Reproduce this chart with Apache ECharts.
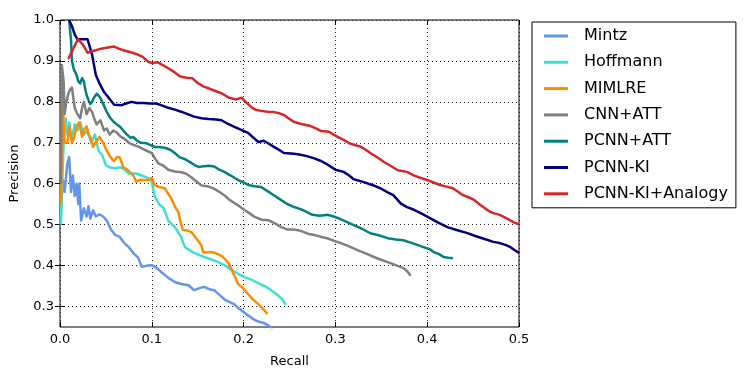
<!DOCTYPE html>
<html>
<head>
<meta charset="utf-8">
<script src="https://cdn.jsdelivr.net/npm/echarts@6/dist/echarts.min.js"></script>
<style>html,body{margin:0;padding:0;background:#fff}#c{width:752px;height:380px}</style>
</head>
<body>
<div id="c"></div>
<script>
const seriesNames = ['Mintz','Hoffmann','MIMLRE','CNN+ATT','PCNN+ATT','PCNN-KI','PCNN-KI+Analogy'];
const seriesColors = ['#6495ED','#40E0D0','#FF8C00','#808080','#008080','#000080','#D62728'];
const xTicks = [0, 0.1, 0.2, 0.3, 0.4, 0.5];
const yTicks = [0.3, 0.4, 0.5, 0.6, 0.7, 0.8, 0.9, 1.0];

const mintz = [[0.001,0.53],[0.003,0.61],[0.005,0.58],[0.008,0.65],[0.010,0.665],[0.012,0.58],[0.014,0.62],[0.016,0.57],[0.018,0.60],[0.020,0.55],[0.021,0.60],[0.023,0.51],[0.026,0.54],[0.029,0.52],[0.031,0.545],[0.033,0.515],[0.036,0.535],[0.039,0.52],[0.043,0.525],[0.047,0.52],[0.051,0.51],[0.055,0.49],[0.060,0.475],[0.065,0.47],[0.070,0.455],[0.075,0.445],[0.080,0.43],[0.085,0.42],[0.089,0.397],[0.095,0.40],[0.100,0.401],[0.105,0.395],[0.110,0.385],[0.118,0.37],[0.125,0.36],[0.132,0.355],[0.140,0.352],[0.146,0.34],[0.152,0.345],[0.157,0.348],[0.163,0.342],[0.168,0.34],[0.174,0.328],[0.180,0.316],[0.190,0.305],[0.195,0.295],[0.201,0.285],[0.207,0.275],[0.212,0.267],[0.218,0.262],[0.222,0.260],[0.228,0.252],[0.232,0.245]];

const hoffmann = [[0.001,0.50],[0.002,0.58],[0.004,0.70],[0.006,0.76],[0.008,0.72],[0.010,0.75],[0.013,0.71],[0.016,0.745],[0.019,0.73],[0.022,0.75],[0.026,0.72],[0.030,0.73],[0.034,0.70],[0.038,0.72],[0.042,0.68],[0.046,0.67],[0.050,0.645],[0.054,0.64],[0.060,0.638],[0.066,0.64],[0.070,0.635],[0.075,0.625],[0.083,0.625],[0.089,0.62],[0.095,0.615],[0.100,0.605],[0.103,0.57],[0.108,0.55],[0.113,0.54],[0.118,0.51],[0.125,0.494],[0.132,0.47],[0.136,0.445],[0.146,0.431],[0.157,0.421],[0.165,0.415],[0.172,0.409],[0.180,0.40],[0.187,0.389],[0.194,0.38],[0.201,0.372],[0.209,0.365],[0.216,0.357],[0.223,0.35],[0.230,0.34],[0.236,0.33],[0.242,0.318],[0.246,0.304]];

const mimlre = [[0.001,0.55],[0.003,0.79],[0.005,0.70],[0.008,0.70],[0.010,0.74],[0.013,0.70],[0.015,0.71],[0.018,0.74],[0.021,0.75],[0.024,0.715],[0.027,0.735],[0.029,0.74],[0.031,0.72],[0.033,0.714],[0.036,0.69],[0.040,0.705],[0.043,0.714],[0.047,0.70],[0.051,0.68],[0.055,0.665],[0.059,0.655],[0.062,0.665],[0.065,0.665],[0.069,0.64],[0.073,0.635],[0.076,0.629],[0.080,0.62],[0.083,0.605],[0.088,0.61],[0.091,0.609],[0.096,0.61],[0.100,0.614],[0.103,0.597],[0.108,0.592],[0.114,0.589],[0.118,0.575],[0.121,0.565],[0.125,0.545],[0.129,0.53],[0.132,0.50],[0.134,0.487],[0.140,0.485],[0.143,0.482],[0.149,0.465],[0.154,0.45],[0.156,0.433],[0.160,0.432],[0.165,0.433],[0.170,0.43],[0.176,0.424],[0.180,0.415],[0.184,0.405],[0.187,0.39],[0.190,0.375],[0.194,0.355],[0.198,0.348],[0.205,0.33],[0.210,0.318],[0.216,0.306],[0.221,0.295],[0.226,0.282]];

const cnnAtt = [[0.001,0.60],[0.002,0.89],[0.004,0.85],[0.005,0.77],[0.007,0.80],[0.009,0.82],[0.011,0.83],[0.013,0.835],[0.016,0.785],[0.019,0.77],[0.022,0.76],[0.024,0.785],[0.026,0.80],[0.029,0.77],[0.032,0.785],[0.035,0.775],[0.038,0.755],[0.040,0.745],[0.044,0.755],[0.048,0.73],[0.051,0.735],[0.054,0.72],[0.058,0.73],[0.062,0.725],[0.066,0.715],[0.070,0.71],[0.075,0.70],[0.080,0.695],[0.086,0.69],[0.090,0.685],[0.095,0.68],[0.100,0.675],[0.104,0.66],[0.107,0.65],[0.112,0.645],[0.118,0.634],[0.125,0.63],[0.132,0.628],[0.137,0.625],[0.143,0.616],[0.149,0.605],[0.154,0.596],[0.160,0.594],[0.166,0.59],[0.170,0.585],[0.175,0.578],[0.180,0.57],[0.185,0.56],[0.190,0.553],[0.196,0.544],[0.201,0.536],[0.207,0.527],[0.212,0.519],[0.220,0.512],[0.227,0.511],[0.234,0.503],[0.241,0.494],[0.248,0.488],[0.255,0.488],[0.262,0.485],[0.270,0.478],[0.277,0.475],[0.285,0.47],[0.292,0.466],[0.299,0.46],[0.306,0.455],[0.315,0.447],[0.324,0.438],[0.333,0.43],[0.342,0.421],[0.351,0.413],[0.360,0.406],[0.367,0.40],[0.374,0.394],[0.378,0.387],[0.382,0.375]];

const pcnnAtt = [[0.010,1.0],[0.012,0.95],[0.013,0.90],[0.015,0.88],[0.018,0.866],[0.020,0.85],[0.022,0.845],[0.024,0.858],[0.026,0.85],[0.028,0.825],[0.030,0.81],[0.033,0.795],[0.035,0.80],[0.037,0.81],[0.040,0.82],[0.042,0.822],[0.044,0.81],[0.046,0.80],[0.049,0.785],[0.051,0.775],[0.055,0.76],[0.059,0.75],[0.062,0.745],[0.065,0.74],[0.069,0.73],[0.073,0.72],[0.077,0.712],[0.080,0.714],[0.084,0.705],[0.088,0.70],[0.094,0.699],[0.098,0.695],[0.103,0.69],[0.108,0.69],[0.114,0.688],[0.120,0.683],[0.125,0.675],[0.130,0.665],[0.136,0.66],[0.142,0.652],[0.147,0.645],[0.151,0.641],[0.157,0.643],[0.162,0.644],[0.168,0.642],[0.173,0.635],[0.179,0.629],[0.186,0.62],[0.194,0.609],[0.200,0.603],[0.205,0.597],[0.212,0.594],[0.219,0.592],[0.226,0.582],[0.233,0.572],[0.241,0.56],[0.248,0.55],[0.255,0.543],[0.262,0.538],[0.268,0.532],[0.275,0.524],[0.283,0.522],[0.292,0.524],[0.298,0.52],[0.303,0.516],[0.311,0.508],[0.320,0.499],[0.329,0.49],[0.338,0.479],[0.347,0.474],[0.357,0.467],[0.366,0.464],[0.374,0.462],[0.382,0.456],[0.390,0.45],[0.396,0.445],[0.403,0.44],[0.407,0.433],[0.413,0.428],[0.418,0.421],[0.423,0.419],[0.428,0.418]];

const pcnnKi = [[0.010,1.0],[0.013,0.985],[0.016,0.965],[0.019,0.953],[0.030,0.953],[0.033,0.93],[0.035,0.915],[0.037,0.89],[0.039,0.866],[0.043,0.845],[0.048,0.824],[0.053,0.81],[0.059,0.793],[0.067,0.792],[0.072,0.796],[0.078,0.80],[0.084,0.797],[0.091,0.797],[0.098,0.796],[0.105,0.796],[0.110,0.792],[0.116,0.787],[0.125,0.781],[0.132,0.776],[0.139,0.77],[0.146,0.764],[0.154,0.76],[0.162,0.758],[0.170,0.757],[0.176,0.755],[0.183,0.746],[0.190,0.739],[0.198,0.731],[0.205,0.724],[0.210,0.714],[0.216,0.702],[0.222,0.705],[0.228,0.697],[0.233,0.69],[0.239,0.682],[0.244,0.675],[0.252,0.674],[0.259,0.672],[0.268,0.668],[0.277,0.662],[0.285,0.655],[0.292,0.646],[0.300,0.634],[0.309,0.629],[0.315,0.62],[0.320,0.611],[0.331,0.604],[0.340,0.597],[0.349,0.589],[0.357,0.579],[0.363,0.572],[0.368,0.56],[0.371,0.552],[0.378,0.543],[0.385,0.537],[0.394,0.527],[0.403,0.516],[0.412,0.505],[0.422,0.494],[0.432,0.487],[0.443,0.48],[0.454,0.471],[0.465,0.463],[0.472,0.458],[0.479,0.455],[0.486,0.45],[0.490,0.446],[0.495,0.438],[0.500,0.431]];

const pcnnKiAnalogy = [[0.009,0.905],[0.0195,0.953],[0.025,0.94],[0.030,0.92],[0.037,0.925],[0.045,0.93],[0.052,0.933],[0.059,0.935],[0.064,0.93],[0.069,0.926],[0.076,0.922],[0.083,0.917],[0.090,0.91],[0.096,0.898],[0.100,0.895],[0.106,0.897],[0.112,0.89],[0.118,0.882],[0.125,0.872],[0.131,0.862],[0.138,0.859],[0.144,0.858],[0.150,0.846],[0.156,0.838],[0.163,0.832],[0.170,0.826],[0.177,0.82],[0.184,0.81],[0.192,0.806],[0.198,0.81],[0.203,0.798],[0.209,0.786],[0.214,0.78],[0.219,0.778],[0.226,0.776],[0.233,0.775],[0.239,0.772],[0.244,0.768],[0.250,0.758],[0.255,0.751],[0.263,0.746],[0.273,0.741],[0.280,0.734],[0.284,0.729],[0.293,0.727],[0.298,0.72],[0.303,0.714],[0.309,0.707],[0.315,0.699],[0.322,0.694],[0.328,0.69],[0.333,0.683],[0.338,0.675],[0.346,0.664],[0.353,0.653],[0.360,0.644],[0.368,0.633],[0.378,0.629],[0.386,0.62],[0.393,0.614],[0.400,0.609],[0.407,0.603],[0.414,0.597],[0.421,0.593],[0.428,0.589],[0.434,0.58],[0.439,0.572],[0.445,0.567],[0.450,0.562],[0.458,0.548],[0.464,0.538],[0.469,0.531],[0.474,0.527],[0.479,0.524],[0.485,0.517],[0.490,0.511],[0.495,0.505],[0.500,0.501]];

const allData = [mintz, hoffmann, mimlre, cnnAtt, pcnnAtt, pcnnKi, pcnnKiAnalogy];

const FONT = 'DejaVu Sans';
const gridLine = {show: true, lineStyle: {color: '#222', width: 1, type: [1, 3]}};
const tick = {show: true, inside: true, length: 5, lineStyle: {color: '#000', width: 1}};

const chart = echarts.init(document.getElementById('c'), null, {renderer: 'canvas'});
chart.setOption({
  animation: false,
  backgroundColor: '#fff',
  textStyle: {fontFamily: FONT},
  grid: {left: 58, right: 233, top: 20, bottom: 53, show: true, borderColor: '#000', borderWidth: 1, backgroundColor: 'transparent'},
  legend: {
    data: seriesNames,
    orient: 'vertical',
    left: 532, top: 22,
    padding: [6, 8, 6, 12],
    itemGap: 10.3,
    itemWidth: 24, itemHeight: 3,
    icon: 'rect',
    borderColor: '#000', borderWidth: 1,
    backgroundColor: '#fff',
    textStyle: {fontFamily: FONT, fontSize: 16, color: '#000', lineHeight: 16, padding: [0, 0, 0, 11]}
  },
  xAxis: [{
    type: 'value', min: 0, max: 0.5, interval: 0.1,
    name: 'Recall', nameLocation: 'middle', nameGap: 28,
    nameTextStyle: {fontFamily: FONT, fontSize: 13, color: '#000'},
    axisLine: {show: false},
    axisTick: tick,
    splitLine: gridLine,
    axisLabel: {fontFamily: FONT, fontSize: 13, color: '#000', margin: 6, formatter: v => v.toFixed(1), customValues: xTicks},
  }, {
    type: 'value', min: 0, max: 0.5, interval: 0.1, position: 'top',
    axisLine: {show: false}, axisTick: tick, splitLine: {show: false}, axisLabel: {show: false}
  }],
  yAxis: [{
    type: 'value', min: 0.25, max: 1.0,
    name: 'Precision', nameLocation: 'middle', nameGap: 39,
    nameTextStyle: {fontFamily: FONT, fontSize: 13, color: '#000'},
    axisLine: {show: false},
    axisTick: Object.assign({customValues: yTicks}, tick),
    splitLine: gridLine,
    axisLabel: {fontFamily: FONT, fontSize: 13, color: '#000', margin: 6, formatter: v => v.toFixed(1), customValues: yTicks},
  }, {
    type: 'value', min: 0.25, max: 1.0, position: 'right',
    axisLine: {show: false},
    axisTick: Object.assign({customValues: yTicks}, tick),
    splitLine: {show: false}, axisLabel: {show: false}
  }],
  series: seriesNames.map((n, i) => ({
    name: n, type: 'line', data: allData[i],
    xAxisIndex: 0, yAxisIndex: 0,
    symbol: 'none', showSymbol: false,
    clip: true,
    color: seriesColors[i],
    lineStyle: {width: 2.5, color: seriesColors[i], join: 'round'},
    itemStyle: {color: seriesColors[i]}
  }))
});
</script>
</body>
</html>
